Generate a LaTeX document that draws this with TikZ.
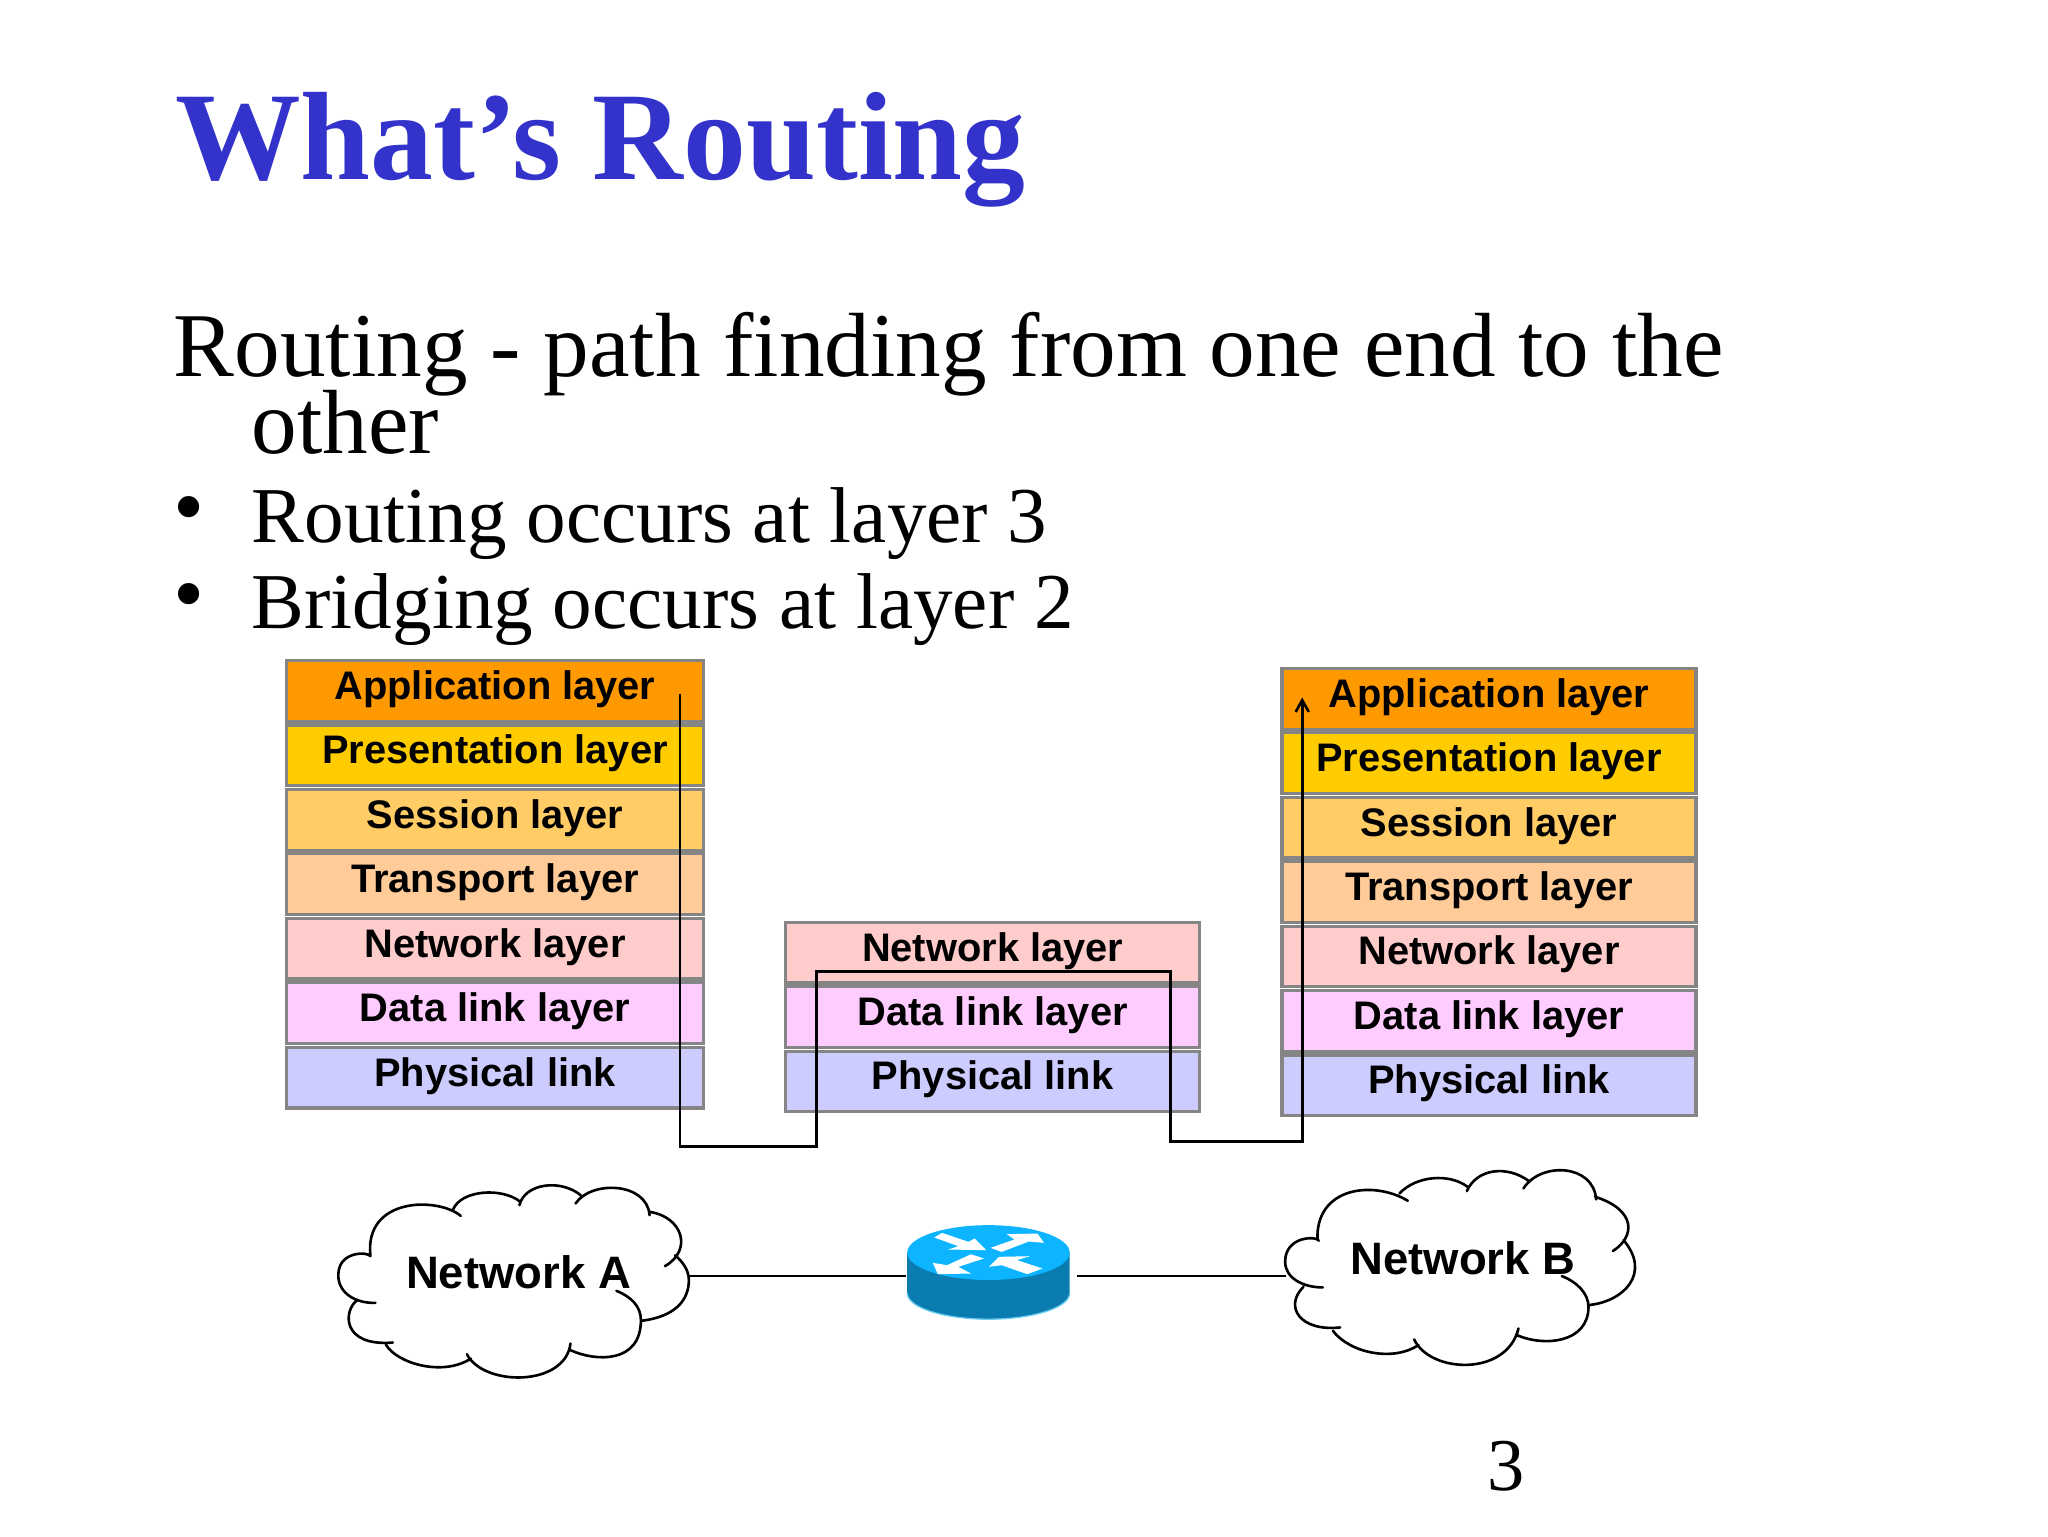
\documentclass[tikz,border=0pt]{standalone}
\usepackage{fontspec}
\setmainfont{Liberation Serif}
\newfontfamily\hv{Liberation Sans}
\usetikzlibrary{arrows.meta}
\definecolor{titleblue}{HTML}{3333CC}
\definecolor{cA}{HTML}{FF9900}
\definecolor{cP}{HTML}{FFCC00}
\definecolor{cS}{HTML}{FFCC66}
\definecolor{cT}{HTML}{FFCC99}
\definecolor{cN}{HTML}{FFCCCC}
\definecolor{cD}{HTML}{FFCCFF}
\definecolor{cL}{HTML}{CCCCFF}
\definecolor{edgegray}{HTML}{858585}
\definecolor{routertop}{HTML}{0DB4FF}
\definecolor{routerside}{HTML}{0A7CB0}
\definecolor{routerrim}{HTML}{6CCDF2}
\tikzset{
  title/.style={anchor=base west,inner sep=0,text=titleblue,font=\fontsize{96.2}{97}\selectfont\bfseries},
  bodyl/.style={anchor=base west,inner sep=0,font=\fontsize{69.8}{71}\selectfont},
  bull/.style={anchor=base west,inner sep=0,font=\fontsize{60.6}{61}\selectfont},
  dot/.style={anchor=base west,inner sep=0,font=\fontsize{68}{68}\selectfont},
  layer/.style={draw=edgegray,line width=2.4pt,inner sep=0,minimum height=46.5pt,
    text height=21pt,text depth=8pt,font=\hv\bfseries\fontsize{30.5}{31}\selectfont},
  lleft/.style={layer,minimum width=319pt},
  lmid/.style={layer,minimum width=317pt},
  wire/.style={draw=black,line width=2pt},
  link/.style={draw=black,line width=2pt},
  cloudline/.style={draw=black,line width=2pt,line cap=round},
  netlabel/.style={inner sep=0,font=\hv\bfseries\fontsize{34.8}{35}\selectfont},
}
\begin{document}
\begin{tikzpicture}[x=1pt,y=-1pt]
\useasboundingbox (0,0) rectangle (1568,1176);
\fill[white] (0,0) rectangle (1568,1176);
\node[title] (ttl) at (134,137.5) {What’s Routing};
\node[bodyl] (b1) at (133,288) {Routing - path finding from one end to the};
\node[bodyl] (b2) at (192.5,347) {other};
\node[dot] (d1) at (133,411) {•};
\node[bull] (t1) at (192.5,415.5) {Routing occurs at layer 3};
\node[dot] (d2) at (133,477) {•};
\node[bull] (t2) at (192.5,481.5) {Bridging occurs at layer 2};
% left stack
\node[lleft,fill=cA] (la) at (379,529) {Application layer};
\node[lleft,fill=cP] (lp) at (379,578.3) {Presentation layer};
\node[lleft,fill=cS] (ls) at (379,627.6) {Session layer};
\node[lleft,fill=cT] (lt) at (379,677) {Transport layer};
\node[lleft,fill=cN] (ln) at (379,726.3) {Network layer};
\node[lleft,fill=cD] (ld) at (379,775.6) {Data link layer};
\node[lleft,fill=cL] (ll) at (379,825) {Physical link};
% middle stack
\node[lmid,fill=cN] (mn) at (760,729.3) {Network layer};
\node[lmid,fill=cD] (md) at (760,778.6) {Data link layer};
\node[lmid,fill=cL] (ml) at (760,828) {Physical link};
% right stack
\node[lmid,fill=cA] (ra) at (1140,535) {Application layer};
\node[lmid,fill=cP] (rp) at (1140,584.3) {Presentation layer};
\node[lmid,fill=cS] (rs) at (1140,633.6) {Session layer};
\node[lmid,fill=cT] (rt) at (1140,683) {Transport layer};
\node[lmid,fill=cN] (rn) at (1140,732.3) {Network layer};
\node[lmid,fill=cD] (rd) at (1140,781.6) {Data link layer};
\node[lmid,fill=cL] (rl) at (1140,831) {Physical link};
% wire
\coordinate (w0) at (520.5,531);
\coordinate (w1) at (625,878);
\coordinate (w2) at (896,744);
\coordinate (w3) at (997,874);
\coordinate (w4) at (997,534);
\draw[wire,-{Straight Barb[length=9pt,width=10pt]}] (w0) |- (w1) |- (w2) |- (w3) -- (w4);
% cloud A
\begin{scope}[shift={(229.7,880.6)},x=.3907pt,y=-.2552pt]
\draw[cloudline]
 (138,318) .. controls (135,305) and (75,300) .. (75,375) .. controls (75,430) and (110,460) .. (148,458)
 (112,450) .. controls (85,480) and (80,590) .. (182,577)
 (168,583) .. controls (190,640) and (280,680) .. (335,625)
 (327,612) .. controls (360,710) and (520,710) .. (530,580)
 (530,600) .. controls (580,635) and (668,640) .. (668,510) .. controls (668,470) and (650,440) .. (620,422)
 (668,512) .. controls (735,500) and (762,450) .. (762,390) .. controls (762,360) and (750,335) .. (735,315)
 (715,348) .. controls (770,300) and (750,200) .. (685,185)
 (685,195) .. controls (680,95) and (570,90) .. (540,160)
 (550,135) .. controls (510,85) and (440,100) .. (430,165)
 (432,155) .. controls (395,110) and (315,120) .. (300,178)
 (315,197) .. controls (270,140) and (125,140) .. (138,318);
\end{scope}
\node[netlabel,minimum width=260pt,minimum height=40pt] (neta) at (397,974) {Network A};
% cloud B
\begin{scope}[shift={(964.8,834.6)},x=.2552pt,y=-.2552pt]
\draw[cloudline]
 (176,452) .. controls (174,438) and (75,435) .. (75,515) .. controls (75,565) and (130,592) .. (188,592)
 (130,590) .. controls (70,650) and (120,725) .. (240,712)
 (218,722) .. controls (270,790) and (400,815) .. (475,765)
 (462,748) .. controls (510,850) and (740,860) .. (775,715)
 (770,735) .. controls (850,770) and (985,760) .. (985,650) .. controls (985,610) and (950,575) .. (905,558)
 (985,645) .. controls (1090,635) and (1175,550) .. (1090,450)
 (1058,483) .. controls (1125,440) and (1130,360) .. (1005,320)
 (1008,328) .. controls (1000,220) and (840,215) .. (790,295)
 (805,272) .. controls (740,225) and (650,235) .. (620,303)
 (622,290) .. controls (570,250) and (470,255) .. (418,310)
 (443,332) .. controls (340,270) and (165,290) .. (172,450);
\end{scope}
\node[netlabel,minimum width=270pt,minimum height=40pt] (netb) at (1120,963) {Network B};
% router
\node[inner sep=0,minimum width=130pt,minimum height=72pt] (router) at (759,977) {};
\fill[routerside] (694.6,959) -- (694.6,990) arc[start angle=180,end angle=0,x radius=62.2,y radius=20] -- (819,959) -- cycle;
\draw[routerrim,line width=1pt] (694.6,990) arc[start angle=180,end angle=0,x radius=62.2,y radius=20];
\fill[routertop] (756.8,959) ellipse[x radius=62.2,y radius=21];
\begin{scope}[shift={(229.7,880.6)},x=.3907pt,y=-.2552pt]
\fill[white] (1258,248) -- (1310,275) -- (1322,265) -- (1345,300) -- (1270,298) -- (1290,288) -- (1243,262) -- cycle;
\fill[white] (1353,293) -- (1400,268) -- (1385,252) -- (1445,250) -- (1458,278) -- (1428,274) -- (1375,305) -- cycle;
\fill[white] (1315,312) -- (1340,325) -- (1290,350) -- (1315,370) -- (1250,372) -- (1240,338) -- (1268,345) -- cycle;
\fill[white] (1455,355) -- (1425,372) -- (1375,345) -- (1350,350) -- (1370,320) -- (1430,318) -- (1405,330) -- cycle;
\end{scope}
% links
\draw[link] (neta.east |- router.west) -- (router.west);
\draw[link] (router.east) -- (netb.west |- router.east);
\node[inner sep=0,anchor=base,font=\fontsize{57}{57}\selectfont] (pg) at (1153,1141) {3};
\end{tikzpicture}
\end{document}
